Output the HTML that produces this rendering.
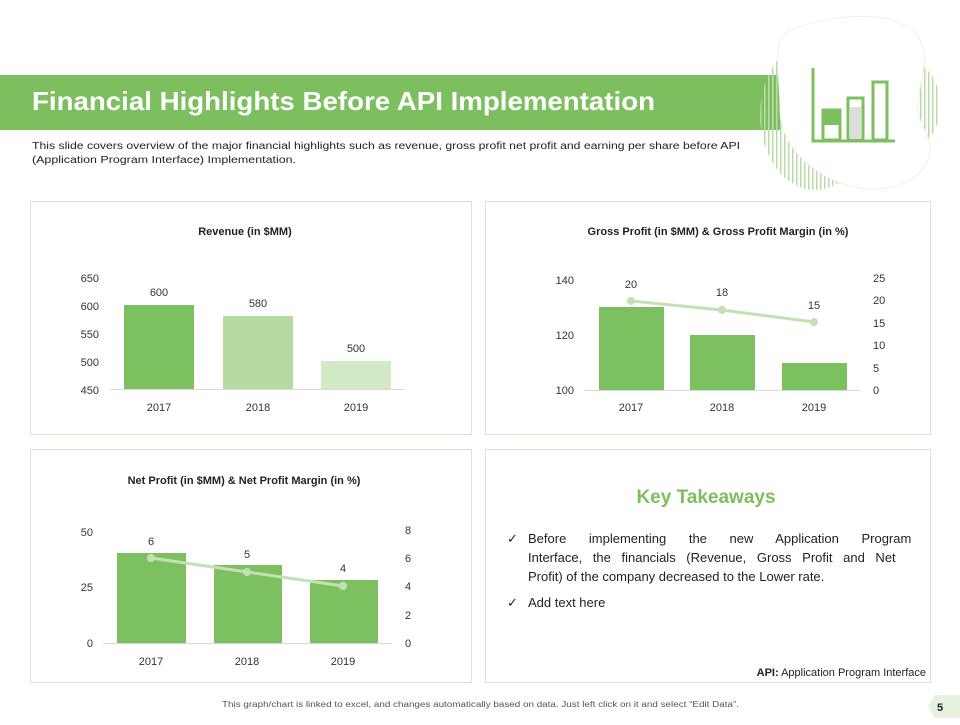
<!DOCTYPE html>
<html><head><meta charset="utf-8"><style>
body{margin:0;width:960px;height:720px;overflow:hidden;background:#fff;font-family:"Liberation Sans",sans-serif}
svg text{font-family:"Liberation Sans",sans-serif}
</style></head><body>
<svg width="960" height="720" viewBox="0 0 960 720" xmlns="http://www.w3.org/2000/svg">
<defs>
<pattern id="st" width="4" height="4" patternUnits="userSpaceOnUse"><rect width="1.5" height="4" fill="#b9dca6"/></pattern>
</defs>
<rect x="0" y="75" width="780" height="55" fill="#7dbf5e"/>
<text x="32" y="110" font-size="26" font-weight="bold" fill="#fff" textLength="623" lengthAdjust="spacingAndGlyphs">Financial Highlights Before API Implementation</text>
<text x="32" y="149" font-size="10" fill="#222" textLength="708" lengthAdjust="spacingAndGlyphs">This slide covers overview of the major financial highlights such as revenue, gross profit net profit and earning per share before API</text>
<text x="32" y="163" font-size="10" fill="#222" textLength="264" lengthAdjust="spacingAndGlyphs">(Application Program Interface) Implementation.</text>
<!-- blob -->
<ellipse cx="815" cy="115" rx="55" ry="75" fill="url(#st)"/>
<ellipse cx="915" cy="105" rx="25" ry="40" fill="url(#st)"/>
<path d="M790 30 C830 15 900 5 920 40 C935 70 905 100 925 130 C945 170 900 195 860 188 C820 182 780 150 780 110 C780 70 770 40 790 30Z" fill="#fff" stroke="#eee"/>
<g fill="none" stroke="#7dbf5e" stroke-width="3">
<path d="M813 68 V141 H895"/>
<rect x="823" y="110" width="17" height="30"/><rect x="848" y="98" width="15" height="42"/><rect x="873" y="82" width="14" height="58"/>
</g>
<rect x="823" y="110" width="17" height="15" fill="#7dbf5e"/>
<rect x="850" y="107" width="11" height="32" fill="#ddd"/>
<!-- boxes -->
<g fill="none" stroke="#d8e6cf"><rect x="30.5" y="201.5" width="441" height="233"/><rect x="485.5" y="201.5" width="445" height="233"/><rect x="30.5" y="449.5" width="441" height="233"/><rect x="485.5" y="449.5" width="445" height="233"/></g>
<g font-size="11" fill="#333">
<text x="245" y="235" text-anchor="middle" font-weight="bold" fill="#222">Revenue (in $MM)</text>
<g text-anchor="end"><text x="99" y="282">650</text><text x="99" y="310">600</text><text x="99" y="338">550</text><text x="99" y="366">500</text><text x="99" y="394">450</text></g>
<line x1="110" y1="389.5" x2="405" y2="389.5" stroke="#d9d9d9"/>
<rect x="124" y="305" width="70" height="84" fill="#7dc05f"/><rect x="223" y="316" width="70" height="73" fill="#b5dba0"/><rect x="321" y="361" width="70" height="28" fill="#d2e9c6"/>
<g text-anchor="middle"><text x="159" y="296">600</text><text x="258" y="307">580</text><text x="356" y="352">500</text>
<text x="159" y="411">2017</text><text x="258" y="411">2018</text><text x="356" y="411">2019</text></g>

<text x="718" y="235" text-anchor="middle" font-weight="bold" fill="#222">Gross Profit (in $MM) &amp; Gross Profit Margin (in %)</text>
<g text-anchor="end"><text x="574" y="284">140</text><text x="574" y="339">120</text><text x="574" y="394">100</text></g>
<g><text x="873" y="282">25</text><text x="873" y="304">20</text><text x="873" y="327">15</text><text x="873" y="349">10</text><text x="873" y="372">5</text><text x="873" y="394">0</text></g>
<line x1="585" y1="390.5" x2="860" y2="390.5" stroke="#d9d9d9"/>
<g fill="#7dc05f"><rect x="599" y="307" width="65" height="83"/><rect x="690" y="335" width="65" height="55"/><rect x="782" y="363" width="65" height="27"/></g>
<polyline points="631,301 722,310 814,322" fill="none" stroke="#c5e0b5" stroke-width="3"/>
<g fill="#c5e0b5"><circle cx="631" cy="301" r="4"/><circle cx="722" cy="310" r="4"/><circle cx="814" cy="322" r="4"/></g>
<g text-anchor="middle"><text x="631" y="288">20</text><text x="722" y="296">18</text><text x="814" y="309">15</text>
<text x="631" y="411">2017</text><text x="722" y="411">2018</text><text x="814" y="411">2019</text></g>

<text x="244" y="484" text-anchor="middle" font-weight="bold" fill="#222">Net Profit (in $MM) &amp; Net Profit Margin (in %)</text>
<g text-anchor="end"><text x="93" y="536">50</text><text x="93" y="591">25</text><text x="93" y="647">0</text></g>
<g><text x="405" y="534">8</text><text x="405" y="562">6</text><text x="405" y="590">4</text><text x="405" y="619">2</text><text x="405" y="647">0</text></g>
<line x1="103" y1="643.5" x2="392" y2="643.5" stroke="#d9d9d9"/>
<g fill="#7dc05f"><rect x="117" y="553" width="69" height="90"/><rect x="214" y="565" width="68" height="78"/><rect x="310" y="580" width="68" height="63"/></g>
<polyline points="151,558 247,572 343,586" fill="none" stroke="#c5e0b5" stroke-width="3"/>
<g fill="#c5e0b5"><circle cx="151" cy="558" r="4"/><circle cx="247" cy="572" r="4"/><circle cx="343" cy="586" r="4"/></g>
<g text-anchor="middle"><text x="151" y="545">6</text><text x="247" y="558">5</text><text x="343" y="572">4</text>
<text x="151" y="665">2017</text><text x="247" y="665">2018</text><text x="343" y="665">2019</text></g>
</g>
<text x="706" y="503" text-anchor="middle" font-size="19" font-weight="bold" fill="#7dbf5e">Key Takeaways</text>
<g font-size="13" fill="#222">
<text x="507" y="543">✓</text>
<text x="528" y="543" word-spacing="19">Before implementing the new Application Program</text>
<text x="528" y="562" word-spacing="7">Interface, the financials (Revenue, Gross Profit and Net</text>
<text x="528" y="581">Profit) of the company decreased to the Lower rate.</text>
<text x="507" y="607">✓</text><text x="528" y="607">Add text here</text>
</g>
<text x="926" y="676" text-anchor="end" font-size="11" fill="#222"><tspan font-weight="bold">API:</tspan> Application Program Interface</text>
<text x="222" y="707" font-size="8" fill="#555" textLength="517" lengthAdjust="spacingAndGlyphs">This graph/chart is linked to excel, and changes automatically based on data. Just left click on it and select “Edit Data”.</text>
<path d="M935 695 H960 V718 H935 L928 706Z" fill="#e6f2dd"/>
<text x="940" y="711" text-anchor="middle" font-size="11" font-weight="bold" fill="#222">5</text>
</svg>
</body></html>
